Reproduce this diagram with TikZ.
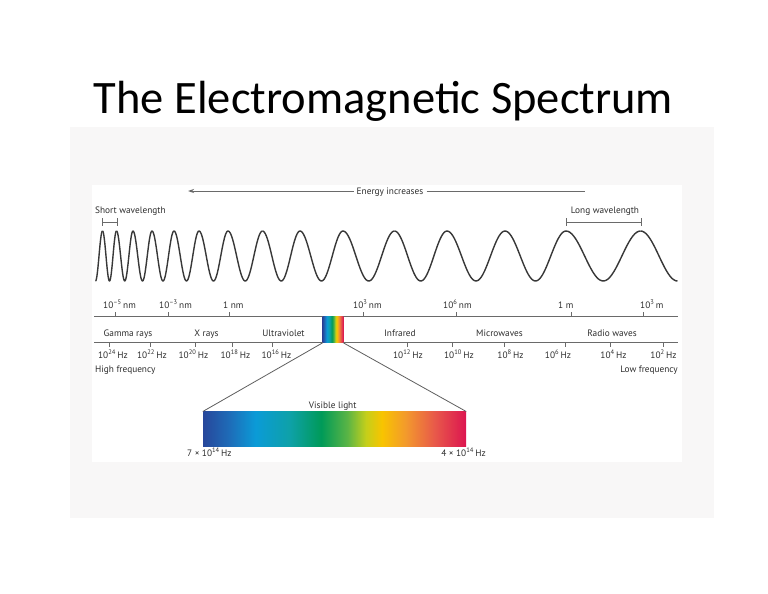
\documentclass[tikz,border=0pt]{standalone}
\usepackage{fontspec}
\setmainfont{PT Sans}
\newfontfamily\titlefont{Carlito}
\usetikzlibrary{arrows.meta}
\definecolor{panel}{HTML}{F8F7F7}
\definecolor{ax}{HTML}{6A6A6A}
\definecolor{txt}{HTML}{2E2E2E}
\definecolor{wavec}{HTML}{383838}
\definecolor{s0}{HTML}{27479B}
\definecolor{s1}{HTML}{1E6CB8}
\definecolor{s2}{HTML}{0B9BD7}
\definecolor{s3}{HTML}{0EA1A8}
\definecolor{s4}{HTML}{009A58}
\definecolor{s5}{HTML}{5BB545}
\definecolor{s6}{HTML}{C5CF1A}
\definecolor{s7}{HTML}{F8C400}
\definecolor{s8}{HTML}{F39A2C}
\definecolor{s9}{HTML}{E8594A}
\definecolor{s10}{HTML}{DC1550}
\pgfdeclarehorizontalshading{visspec}{100bp}{color(0bp)=(s0); color(25bp)=(s0); color(30bp)=(s1); color(35bp)=(s2); color(41.5bp)=(s3); color(47.5bp)=(s4); color(52.5bp)=(s5); color(56bp)=(s6); color(59bp)=(s7); color(63.5bp)=(s8); color(69bp)=(s9); color(75bp)=(s10); color(100bp)=(s10)}
\begin{document}
\begin{tikzpicture}[x=1pt,y=-1pt,
  lab/.style={font=\fontsize{9.3}{11}\selectfont, text=txt, inner sep=0pt},
  titlef/.style={font=\titlefont\fontsize{46.5}{50}\selectfont, text=black, inner sep=0pt},
  axisline/.style={draw=ax, line width=0.9pt},
  tickline/.style={draw=ax, line width=0.8pt},
  bracketline/.style={draw=ax, line width=0.8pt},
  wave/.style={draw=wavec, line width=1.4pt, line join=round},
  zoomline/.style={draw=ax!90!black, line width=0.8pt},
  specbox/.style={inner sep=0pt, shading=visspec, draw=none}]
\useasboundingbox (0,0) rectangle (768,594);
\fill[panel] (70,127) rectangle (714,518);
\fill[white] (91.7,185) rectangle (681.7,461.5);
\node[titlef, anchor=base] (title) at (383.5,113.3) {The Electromagnetic Spectrum};
% energy arrow
\node[lab, anchor=base, inner xsep=3pt] (energy) at (390,194) {Energy increases};
\coordinate (ehead) at (188,191);
\coordinate (etail) at (585,191);
\draw[axisline, -{Stealth[length=6pt,width=4pt]}] (energy.west |- ehead) -- (ehead);
\draw[axisline] (energy.east |- etail) -- (etail);
% wavelength brackets
\node[lab, anchor=base west] (short) at (95,213.3) {Short wavelength};
\draw[bracketline] (102,218) -- (102,226) (102,222) -- (117,222) (117,218) -- (117,226);
\node[lab, anchor=base] (long) at (605,213.3) {Long wavelength};
\draw[bracketline] (566,218) -- (566,226) (566,222) -- (641.7,222) (641.7,218) -- (641.7,226);
% wave
\draw[wave] plot[domain=95.5:102.5, samples=20] (\x, {256+25*cos(180*(\x-95.5)/7)});
\foreach \p/\q in {102.5/116.5, 116.5/133, 133/152, 152/174, 174/199, 199/228, 228/262.5, 262.5/300, 300/343, 343/394.5, 394.5/447, 447/505, 505/566, 566/640.5}{
  \draw[wave] plot[domain=\p:\q, samples=40] (\x, {256-25*cos((\x-\p)/(\q-\p)*360)});
}
\draw[wave] plot[domain=640.5:677.5, samples=30] (\x, {256-25*cos((\x-640.5)/37*180)});
% axis lines
\draw[axisline] (94,316.7) -- (678,316.7);
\draw[axisline] (94,342) -- (678,342);
% wavelength ticks and labels
\foreach \t/\l/\txt [count=\i] in {115/103/10\textsuperscript{–5}\,nm, 168/159/10\textsuperscript{–3}\,nm, 229/223/1 nm, 363/353/10\textsuperscript{3}\,nm, 456/443/10\textsuperscript{6}\,nm, 571/558/1 m, 643/640/10\textsuperscript{3}\,m}{
  \draw[tickline] (\t,316.7) -- (\t,311.5);
  \node[lab, anchor=base west] (wl\i) at (\l,308.3) {\txt};
}
% band labels
\foreach \c/\txt [count=\i] in {128/Gamma rays, 206.5/X rays, 283.5/Ultraviolet, 400/Infrared, 499.5/Microwaves, 612/Radio waves}{
  \node[lab, anchor=base] (band\i) at (\c,336.7) {\txt};
}
% frequency ticks and labels
\foreach \t/\c/\e [count=\i] in {109/113/24, 150/152/22, 195/193.5/20, 232/235.5/18, 272/276.5/16, 407/408/12, 452/459/10, 504/510.5/8, 565/558/6, 610/613.5/4, 663/663.5/2}{
  \draw[tickline] (\t,342) -- (\t,347);
  \node[lab, anchor=base] (hz\i) at (\c,358.3) {10\textsuperscript{\e}\,Hz};
}
\node[lab, anchor=base west] (high) at (95,372) {High frequency};
\node[lab, anchor=base east] (low) at (678,372) {Low frequency};
% spectrum boxes
\node[specbox, minimum width=20.6pt, minimum height=26pt] (mini) at (333,329.7) {};
\node[specbox, minimum width=263pt, minimum height=34.3pt] (vis) at (334.5,428.85) {};
\draw[zoomline] (mini.south west) -- (vis.north west);
\draw[zoomline] (mini.south east) -- (vis.north east);
\node[lab, anchor=base] (vislab) at (332.7,408.3) {Visible light};
\node[lab, anchor=base west] (f7) at (187,456.7) {7 × 10\textsuperscript{14}\,Hz};
\node[lab, anchor=base east] (f4) at (486,456.7) {4 × 10\textsuperscript{14}\,Hz};
\end{tikzpicture}
\end{document}
